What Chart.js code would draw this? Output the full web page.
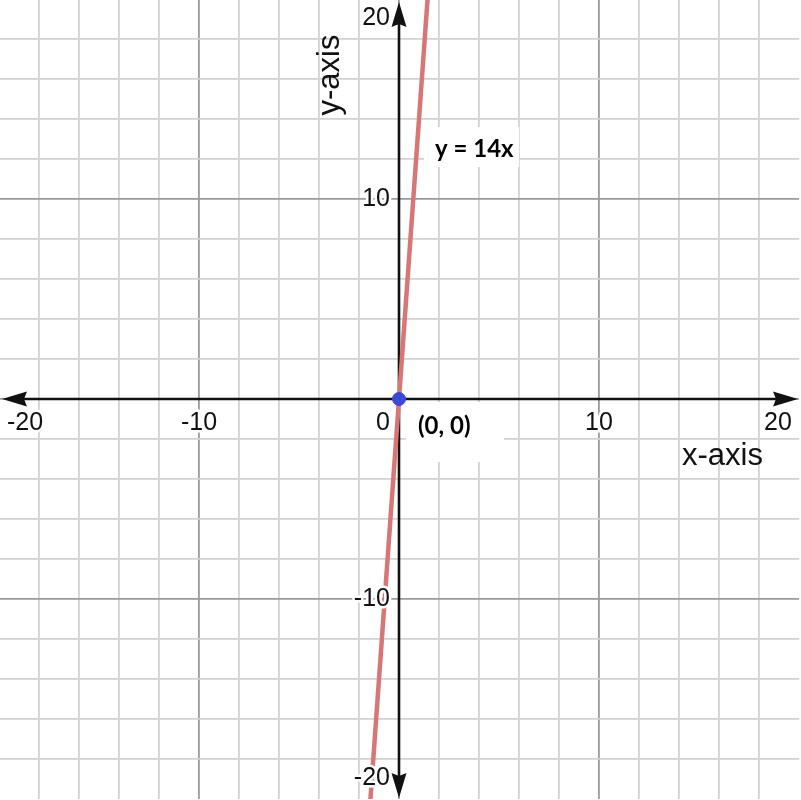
<!DOCTYPE html>
<html>
<head>
<meta charset="utf-8">
<script src="https://cdn.jsdelivr.net/npm/chart.js"></script>
<style>
  html, body { margin: 0; padding: 0; background: #fff; overflow: hidden; }
  #wrap { position: relative; left: -1px; top: -1px; width: 800px; height: 800px; }
</style>
</head>
<body>
<div id="wrap"><canvas id="graph"></canvas></div>
<script>
// line y = 14x, read at the edges of the window
var lineX = [-1.5, 1.5];
var lineY = [-21, 21];
var pointX = [0];
var pointY = [0];
var xTicks = [-20, -10, 0, 10, 20];
var yTicks = [20, 10, -10, -20];
var axisMin = -20;
var axisMax = 20;
var gridStep = 2;
var lineLabel = "y = 14x";
var pointLabel = "(0, 0)";

var linePoints = [];
for (var i in lineX) {
  linePoints.push({x: lineX[i], y: lineY[i]});
}
var dotPoints = [];
for (var j in pointX) {
  dotPoints.push({x: pointX[j], y: pointY[j]});
}

function haloText(ctx, txt, x, y) {
  ctx.lineWidth = 5;
  ctx.strokeStyle = "#fff";
  ctx.strokeText(txt, x, y);
  ctx.fillText(txt, x, y);
}

var axesPlugin = {
  id: "axesPlugin",
  beforeDatasetsDraw: function(chart) {
    var ctx = chart.ctx;
    var xs = chart.scales.x, ys = chart.scales.y;
    var area = chart.chartArea;
    var x0 = xs.getPixelForValue(0), y0 = ys.getPixelForValue(0);
    ctx.save();

    // white boxes behind the labels
    ctx.fillStyle = "#fff";
    var lx = xs.getPixelForValue(1.25), ly = ys.getPixelForValue(12.5);
    ctx.fillRect(lx, ly - 22, 95, 40);
    var px = xs.getPixelForValue(pointX[0]), py = ys.getPixelForValue(pointY[0]);
    ctx.fillRect(px + 7, py + 3, 98, 60);

    // axes with arrows
    ctx.strokeStyle = "#111";
    ctx.fillStyle = "#111";
    ctx.lineWidth = 2.6;
    ctx.beginPath();
    ctx.moveTo(area.left + 20, y0);
    ctx.lineTo(area.right - 20, y0);
    ctx.moveTo(x0, area.top + 20);
    ctx.lineTo(x0, area.bottom - 20);
    ctx.stroke();

    ctx.beginPath();
    ctx.moveTo(area.left + 3, y0);
    ctx.lineTo(area.left + 28, y0 - 7.5);
    ctx.lineTo(area.left + 25, y0);
    ctx.lineTo(area.left + 28, y0 + 7.5);
    ctx.closePath();
    ctx.moveTo(area.right - 1, y0);
    ctx.lineTo(area.right - 26, y0 - 7.5);
    ctx.lineTo(area.right - 23, y0);
    ctx.lineTo(area.right - 26, y0 + 7.5);
    ctx.closePath();
    ctx.moveTo(x0, area.top + 3);
    ctx.lineTo(x0 - 7.5, area.top + 28);
    ctx.lineTo(x0, area.top + 25);
    ctx.lineTo(x0 + 7.5, area.top + 28);
    ctx.closePath();
    ctx.moveTo(x0, area.bottom - 1);
    ctx.lineTo(x0 - 7.5, area.bottom - 26);
    ctx.lineTo(x0, area.bottom - 23);
    ctx.lineTo(x0 + 7.5, area.bottom - 26);
    ctx.closePath();
    ctx.fill();
    ctx.restore();
  },
  afterDraw: function(chart) {
    var ctx = chart.ctx;
    var xs = chart.scales.x, ys = chart.scales.y;
    var area = chart.chartArea;
    var x0 = xs.getPixelForValue(0), y0 = ys.getPixelForValue(0);
    ctx.save();
    ctx.fillStyle = "#111";
    ctx.font = "25px 'Liberation Sans', Arial, sans-serif";
    ctx.textBaseline = "middle";

    // x tick labels
    ctx.textAlign = "center";
    for (var i in xTicks) {
      var v = xTicks[i];
      var tx = xs.getPixelForValue(v);
      if (v === 0) tx = x0 - 16;
      tx = Math.min(Math.max(tx, area.left + 26), area.right - 21);
      haloText(ctx, String(v), tx, y0 + 24);
    }
    // y tick labels
    ctx.textAlign = "right";
    for (var k in yTicks) {
      var ty = ys.getPixelForValue(yTicks[k]);
      ty = Math.min(Math.max(ty, area.top + 19), area.bottom - 21);
      haloText(ctx, String(yTicks[k]), x0 - 9, ty);
    }

    // axis titles
    ctx.font = "31px 'Liberation Sans', Arial, sans-serif";
    ctx.textAlign = "left";
    ctx.fillText("x-axis", area.right - 117, y0 + 57);
    ctx.save();
    ctx.translate(x0 - 69, area.top + 76);
    ctx.rotate(-Math.PI / 2);
    ctx.textAlign = "center";
    ctx.fillText("y-axis", 0, 0);
    ctx.restore();

    // bold labels
    ctx.font = "bold 24px Lato, 'Open Sans', sans-serif";
    ctx.textAlign = "left";
    ctx.fillStyle = "#000";
    ctx.fillText(lineLabel, xs.getPixelForValue(1.8), ys.getPixelForValue(12.5));
    ctx.fillText(pointLabel, xs.getPixelForValue(pointX[0]) + 19, ys.getPixelForValue(pointY[0]) + 27);
    ctx.restore();
  }
};

var gridColor = function(c) {
  if (!c.tick) return "#d2d2d2";
  if (c.tick.value === axisMin || c.tick.value === axisMax) return "rgba(0,0,0,0)";
  return c.tick.value % 10 === 0 ? "#9a9a9a" : "#d2d2d2";
};

var ctx = document.getElementById("graph");
var graph = new Chart(ctx, {
  type: "scatter",
  data: {
    datasets: [
      {
        data: linePoints,
        showLine: true,
        borderColor: "#d87575",
        borderWidth: 4.5,
        pointRadius: 0,
        order: 2
      },
      {
        data: dotPoints,
        backgroundColor: "#3f47d6",
        borderColor: "#3f47d6",
        pointRadius: 6.5,
        order: 1
      }
    ]
  },
  options: {
    responsive: true,
    maintainAspectRatio: false,
    animation: false,
    layout: { padding: 0, autoPadding: false },
    plugins: {
      legend: { display: false },
      tooltip: { enabled: false }
    },
    scales: {
      x: {
        type: "linear",
        min: axisMin,
        max: axisMax,
        ticks: { stepSize: gridStep, display: false, padding: 0 },
        grid: { color: gridColor, lineWidth: 1.8, drawTicks: false },
        border: { display: false }
      },
      y: {
        type: "linear",
        min: axisMin,
        max: axisMax,
        ticks: { stepSize: gridStep, display: false, padding: 0 },
        grid: { color: gridColor, lineWidth: 1.8, drawTicks: false },
        border: { display: false }
      }
    }
  },
  plugins: [axesPlugin]
});
</script>
</body>
</html>
